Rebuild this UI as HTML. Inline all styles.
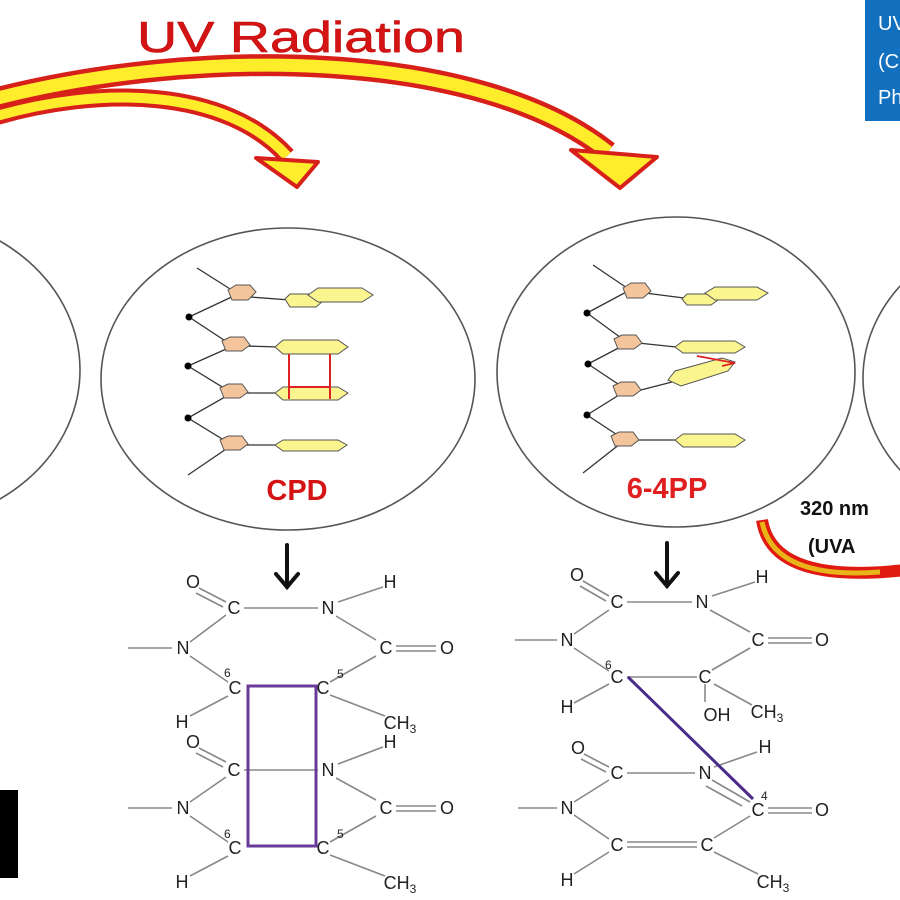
<!DOCTYPE html>
<html><head><meta charset="utf-8"><style>
html,body{margin:0;padding:0;background:#fff;}
svg{display:block;}
text{font-family:"Liberation Sans",Arial,sans-serif;}
.a{font-size:18px;fill:#222;}
.s{font-size:12px;fill:#222;}
</style></head><body>
<svg width="900" height="900" viewBox="0 0 900 900" xmlns="http://www.w3.org/2000/svg">
<rect width="900" height="900" fill="#fff"/>
<!-- blue box -->
<rect x="865" y="0" width="40" height="121" fill="#1270bf"/>
<text x="878" y="30" font-size="20" fill="#fff">UV</text>
<text x="878" y="68" font-size="20" fill="#fff">(C</text>
<text x="878" y="104" font-size="20" fill="#fff">Ph</text>
<!-- big arrows -->
<path d="M -10 100 C 200 45 480 50 608 152" fill="none" stroke="#d8201a" stroke-width="22"/>
<path d="M -10 100 C 200 45 480 50 608 152" fill="none" stroke="#ffec2a" stroke-width="13"/>
<polygon points="571,150 657,157 620,188" fill="#ffec2a" stroke="#d8201a" stroke-width="4" stroke-linejoin="round"/>
<path d="M -10 118 C 100 85 225 88 287 156" fill="none" stroke="#d8201a" stroke-width="18"/>
<path d="M -10 118 C 100 85 225 88 287 156" fill="none" stroke="#ffec2a" stroke-width="10"/>
<polygon points="256,158 318,162 297,187" fill="#ffec2a" stroke="#d8201a" stroke-width="4" stroke-linejoin="round"/>
<!-- title -->
<text x="137" y="52" font-size="44" fill="#d41414" textLength="328" lengthAdjust="spacingAndGlyphs" stroke="#c01010" stroke-width="0.6">UV Radiation</text>
<!-- circles -->
<g fill="none" stroke="#555" stroke-width="1.6">
<ellipse cx="-100" cy="370" rx="180" ry="155"/>
<ellipse cx="288" cy="379" rx="187" ry="151"/>
<ellipse cx="676" cy="372" rx="179" ry="155"/>
<ellipse cx="1045" cy="378" rx="182" ry="152"/>
</g>
<!-- CPD DNA -->
<g stroke="#333" stroke-width="1.3" fill="none">
<polyline points="197,268 238,294 189,317 233,346 188,366 232,393 188,418 232,445 188,475"/>
<line x1="250" y1="297" x2="290" y2="300"/>
<line x1="245" y1="346" x2="278" y2="347"/>
<line x1="244" y1="393" x2="278" y2="393"/>
<line x1="244" y1="445" x2="278" y2="445"/>
</g>
<g stroke="#555" stroke-width="1" fill="#f4c59c">
<polygon points="228,290 236,285 250,285 256,292 248,300 232,300"/>
<polygon points="222,341 230,337 244,337 250,345 242,351 226,351"/>
<polygon points="220,388 228,384 242,384 248,392 240,398 224,398"/>
<polygon points="220,440 228,436 242,436 248,444 240,450 224,450"/>
</g>
<g stroke="#555" stroke-width="1" fill="#fbf58f">
<polygon points="285,299 290,294 316,294 323,301 316,307 290,307"/>
<polygon points="308,295 318,288 362,288 373,295 362,302 318,302"/>
<polygon points="275,347 283,340 338,340 348,347 338,354 283,354"/>
<polygon points="275,393 283,387 338,387 348,393 338,400 283,400"/>
<polygon points="275,445 283,440 338,440 347,445 338,451 283,451"/>
</g>
<g stroke="#d22" stroke-width="2" fill="none">
<line x1="289" y1="354" x2="289" y2="399"/><line x1="330" y1="354" x2="330" y2="399"/>
<line x1="289" y1="387" x2="330" y2="387"/>
</g>
<g fill="#000"><circle cx="189" cy="317" r="3.5"/><circle cx="188" cy="366" r="3.5"/><circle cx="188" cy="418" r="3.5"/></g>
<text x="297" y="500" font-size="29" font-weight="bold" fill="#d41414" text-anchor="middle">CPD</text>
<!-- 6-4PP DNA -->
<g stroke="#333" stroke-width="1.3" fill="none">
<polyline points="593,265 630,290 587,313 628,343 588,364 627,390 587,415 625,440 583,473"/>
<line x1="645" y1="293" x2="684" y2="298"/>
<line x1="638" y1="343" x2="676" y2="347"/>
<line x1="637" y1="391" x2="672" y2="382"/>
<line x1="636" y1="440" x2="676" y2="440"/>
</g>
<g stroke="#555" stroke-width="1" fill="#f4c59c">
<polygon points="623,288 631,283 645,283 651,291 643,298 627,298"/>
<polygon points="614,339 622,335 636,335 642,343 634,349 618,349"/>
<polygon points="613,386 621,382 635,382 641,390 633,396 617,396"/>
<polygon points="611,436 619,432 633,432 639,440 631,446 615,446"/>
</g>
<g stroke="#555" stroke-width="1" fill="#fbf58f">
<polygon points="682,299 687,294 711,294 718,300 711,305 687,305"/>
<polygon points="705,293 715,287 757,287 768,293 757,300 715,300"/>
<polygon points="675,347 683,341 735,341 745,347 735,353 683,353"/>
<polygon points="668,380 675,371 722,358 735,362 728,371 681,386"/>
<polygon points="675,440 683,434 735,434 745,440 735,447 683,447"/>
</g>
<polyline points="697,356 735,363 722,366" fill="none" stroke="#d22" stroke-width="1.8"/>
<g fill="#000"><circle cx="587" cy="313" r="3.5"/><circle cx="588" cy="364" r="3.5"/><circle cx="587" cy="415" r="3.5"/></g>
<text x="667" y="498" font-size="29" font-weight="bold" fill="#e02020" text-anchor="middle">6-4PP</text>
<!-- 320 nm -->
<path d="M 762 520 Q 772 585 905 570" fill="none" stroke="#e01a10" stroke-width="12"/>
<path d="M 762 522 Q 774 580 880 572" fill="none" stroke="#e8b418" stroke-width="5"/>
<text x="800" y="515" font-size="20" font-weight="bold" fill="#111">320 nm</text>
<text x="808" y="553" font-size="20" font-weight="bold" fill="#111">(UVA</text>
<!-- down arrows -->
<g stroke="#111" stroke-width="4" fill="none" stroke-linecap="round">
<line x1="287" y1="545" x2="287" y2="587"/><polyline points="276,574 287,587 298,574"/>
<line x1="667" y1="543" x2="667" y2="586"/><polyline points="656,573 667,586 678,573"/>
</g>
<!-- CPD chemistry -->
<g stroke="#888" stroke-width="1.6" fill="none">
<line x1="199" y1="588" x2="226" y2="602"/><line x1="196" y1="593" x2="223" y2="607"/>
<line x1="244" y1="608" x2="318" y2="608"/>
<line x1="338" y1="602" x2="383" y2="587"/>
<line x1="190" y1="642" x2="226" y2="615"/>
<line x1="128" y1="648" x2="172" y2="648"/>
<line x1="336" y1="616" x2="376" y2="640"/>
<line x1="396" y1="646" x2="436" y2="646"/><line x1="396" y1="651" x2="436" y2="651"/>
<line x1="190" y1="656" x2="228" y2="682"/>
<line x1="330" y1="682" x2="376" y2="656"/>
<line x1="190" y1="716" x2="228" y2="696"/>
<line x1="330" y1="695" x2="385" y2="716"/>
<line x1="199" y1="748" x2="226" y2="762"/><line x1="196" y1="753" x2="223" y2="767"/>
<line x1="244" y1="770" x2="318" y2="770"/>
<line x1="338" y1="764" x2="383" y2="747"/>
<line x1="190" y1="802" x2="226" y2="777"/>
<line x1="128" y1="808" x2="172" y2="808"/>
<line x1="336" y1="778" x2="376" y2="800"/>
<line x1="396" y1="806" x2="436" y2="806"/><line x1="396" y1="811" x2="436" y2="811"/>
<line x1="190" y1="816" x2="228" y2="842"/>
<line x1="330" y1="842" x2="376" y2="816"/>
<line x1="190" y1="876" x2="228" y2="856"/>
<line x1="330" y1="855" x2="385" y2="876"/>
</g>
<rect x="248" y="686" width="68" height="160" fill="none" stroke="#6a3a9a" stroke-width="3"/>
<g class="a" text-anchor="middle">
<text x="193" y="588">O</text><text x="234" y="614">C</text><text x="328" y="614">N</text><text x="390" y="588">H</text>
<text x="183" y="654">N</text><text x="386" y="654">C</text><text x="447" y="654">O</text>
<text x="235" y="694">C</text><text x="323" y="694">C</text>
<text x="182" y="728">H</text><text x="400" y="729">CH<tspan font-size="12" dy="4">3</tspan></text>
<text x="193" y="748">O</text><text x="234" y="776">C</text><text x="328" y="776">N</text><text x="390" y="748">H</text>
<text x="183" y="814">N</text><text x="386" y="814">C</text><text x="447" y="814">O</text>
<text x="235" y="854">C</text><text x="323" y="854">C</text>
<text x="182" y="888">H</text><text x="400" y="889">CH<tspan font-size="12" dy="4">3</tspan></text>
</g>
<g class="s"><text x="224" y="677">6</text><text x="337" y="678">5</text><text x="224" y="838">6</text><text x="337" y="838">5</text></g>
<!-- 6-4PP chemistry -->
<g stroke="#888" stroke-width="1.6" fill="none">
<line x1="583" y1="581" x2="609" y2="596"/><line x1="580" y1="586" x2="606" y2="601"/>
<line x1="627" y1="602" x2="692" y2="602"/>
<line x1="712" y1="596" x2="755" y2="582"/>
<line x1="574" y1="634" x2="609" y2="610"/>
<line x1="515" y1="640" x2="557" y2="640"/>
<line x1="710" y1="610" x2="750" y2="632"/>
<line x1="768" y1="638" x2="812" y2="638"/><line x1="768" y1="643" x2="812" y2="643"/>
<line x1="574" y1="648" x2="609" y2="671"/>
<line x1="627" y1="677" x2="697" y2="677"/>
<line x1="712" y1="670" x2="750" y2="648"/>
<line x1="705" y1="684" x2="705" y2="702"/>
<line x1="714" y1="684" x2="752" y2="705"/>
<line x1="574" y1="703" x2="609" y2="684"/>
<line x1="584" y1="754" x2="609" y2="767"/><line x1="581" y1="759" x2="606" y2="772"/>
<line x1="627" y1="773" x2="695" y2="773"/>
<line x1="714" y1="767" x2="757" y2="752"/>
<line x1="574" y1="802" x2="609" y2="780"/>
<line x1="518" y1="808" x2="557" y2="808"/>
<line x1="712" y1="780" x2="750" y2="802"/><line x1="706" y1="786" x2="742" y2="806"/>
<line x1="768" y1="808" x2="812" y2="808"/><line x1="768" y1="813" x2="812" y2="813"/>
<line x1="574" y1="815" x2="609" y2="839"/>
<line x1="627" y1="842" x2="697" y2="842"/><line x1="627" y1="847" x2="697" y2="847"/>
<line x1="714" y1="838" x2="750" y2="816"/>
<line x1="574" y1="874" x2="609" y2="852"/>
<line x1="714" y1="852" x2="758" y2="874"/>
</g>
<line x1="628" y1="677" x2="753" y2="799" stroke="#4a2a8a" stroke-width="3"/>
<g class="a" text-anchor="middle">
<text x="577" y="581">O</text><text x="617" y="608">C</text><text x="702" y="608">N</text><text x="762" y="583">H</text>
<text x="567" y="646">N</text><text x="758" y="646">C</text><text x="822" y="646">O</text>
<text x="617" y="683">C</text><text x="705" y="683">C</text>
<text x="567" y="713">H</text><text x="717" y="721">OH</text><text x="767" y="718">CH<tspan font-size="12" dy="4">3</tspan></text>
<text x="578" y="754">O</text><text x="617" y="779">C</text><text x="705" y="779">N</text><text x="765" y="753">H</text>
<text x="567" y="814">N</text><text x="758" y="816">C</text><text x="822" y="816">O</text>
<text x="617" y="851">C</text><text x="707" y="851">C</text>
<text x="567" y="886">H</text><text x="773" y="888">CH<tspan font-size="12" dy="4">3</tspan></text>
</g>
<g class="s"><text x="605" y="669">6</text><text x="761" y="800">4</text></g>
<!-- black rect -->
<rect x="0" y="790" width="18" height="88" fill="#000"/>
</svg>
</body></html>
